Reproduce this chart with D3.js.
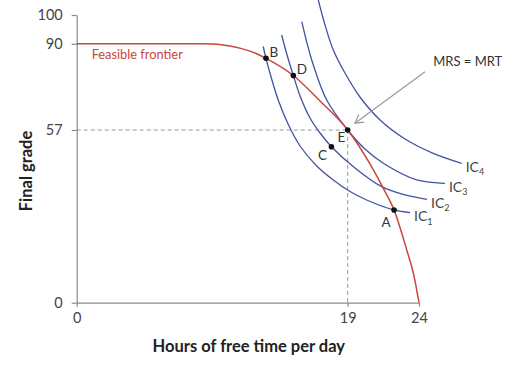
<!DOCTYPE html>
<html>
<head>
<meta charset="utf-8">
<script src="https://cdn.jsdelivr.net/npm/d3@7"></script>
<style>
  body { margin: 0; background: #fff; }
  svg { display: block; font-family: Lato, "Open Sans", sans-serif; }
</style>
</head>
<body>
<div id="chart"></div>
<script>
const width = 513, height = 377;

// tick values
const xTicks = [0, 19, 24];
const yTicks = [0, 57, 90, 100];

// [hours of free time, final grade]
const frontier = [[0, 90], [9, 90], [10.75, 89.2], [12.15, 87.2], [13.27, 84.45], [15.19, 77.86],
  [17.06, 68.1], [19, 57], [20.56, 45.8], [21.48, 37.9], [22.25, 30.6], [23.14, 17.4], [23.65, 8.8], [24, 0]];

const ic1 = [[13.08, 88.97], [13.27, 84.45], [13.69, 76.14], [14.18, 67.72], [14.82, 59.3], [15.66, 51.72],
  [16.83, 45.12], [17.99, 40.5], [19.16, 36.7], [20.33, 33.9], [22.25, 30.6], [23.37, 29.7]];
const ic2 = [[14.37, 93.06], [14.75, 85.71], [15.19, 77.86], [15.66, 70.02], [16.36, 61.59], [17.06, 56.01],
  [17.86, 51.49], [19.51, 44.46], [21.38, 38.29], [23.02, 35.55], [24.56, 34.13]];
const ic3 = [[15.78, 97.67], [16.48, 83.8], [17.53, 68.49], [19, 57], [20.21, 50.73], [21.5, 46.01],
  [23.84, 40.5], [25.82, 39.41]];
const ic4 = [[16.94, 105.2], [17.41, 96.53], [17.99, 87.63], [18.81, 78.82], [19.86, 69.63], [21.27, 60.83],
  [23.02, 54.03], [25.0, 49.31], [26.99, 46.01]];

const icCurves = [ic1, ic2, ic3, ic4];
const icNames = ["1", "2", "3", "4"];

// labelled points
const pointNames = ["B", "D", "E", "C", "A"];
const pointValues = [[13.27, 84.45], [15.19, 77.86], [19, 57], [17.86, 51.49], [22.25, 30.6]];

// MRS = MRT annotation (arrow start, arrow tip, text)
const annoText = "MRS = MRT";
const annoFrom = [24.42, 79.3];
const annoTo = [19.51, 59.6];
const annoLabel = [25.0, 83.1];

const red = "#c8463a", blue = "#4152a2", axisGrey = "#8a8a8a";

const svg = d3.select("#chart")
  .append("svg")
  .attr("width", width)
  .attr("height", height)
  .attr("viewBox", [0, 0, width, height]);

svg.append("rect").attr("width", width).attr("height", height).attr("fill", "#fff");

let x = d3.scaleLinear()
  .domain([0, 24])
  .range([76.7, 419]);

// the source axis is not drawn to a single scale, so the ticks are pinned
let y = d3.scaleLinear()
  .domain([0, 57, 90, 100])
  .range([302.7, 130, 43.8, 15]);

// dashed guides to E
let guide = svg.append("g")
  .attr("stroke", "#999")
  .attr("stroke-width", 1)
  .attr("stroke-dasharray", "4,3")
  .attr("fill", "none");

guide.append("line")
  .attr("x1", x(0)).attr("x2", x(19))
  .attr("y1", y(57)).attr("y2", y(57));
guide.append("line")
  .attr("x1", x(19)).attr("x2", x(19))
  .attr("y1", y(57)).attr("y2", y(0));

// axes
let xAxis = svg.append("g")
  .attr("transform", `translate(0,${y(0)})`)
  .call(d3.axisBottom(x).tickValues(xTicks).tickSize(4).tickSizeOuter(0).tickPadding(6));

let yAxis = svg.append("g")
  .attr("transform", `translate(${x(0)},0)`)
  .call(d3.axisLeft(y).tickValues(yTicks).tickSize(5).tickSizeOuter(0).tickPadding(9));

for (let g of [xAxis, yAxis]) {
  g.select(".domain").attr("stroke", axisGrey).attr("stroke-width", 1.2);
  g.selectAll(".tick line").attr("stroke", axisGrey).attr("stroke-width", 1.2);
  g.selectAll(".tick text")
    .attr("fill", "#444")
    .style("font-size", "14.5px")
    .style("font-family", "Lato, 'Open Sans', sans-serif");
}

// indifference curves
let icLine = d3.line()
  .x(d => x(d[0]))
  .y(d => y(d[1]))
  .curve(d3.curveCatmullRom.alpha(0.5));

icCurves.forEach((c, i) => {
  svg.append("path")
    .datum(c)
    .attr("fill", "none")
    .attr("stroke", blue)
    .attr("stroke-width", 1.3)
    .attr("d", icLine);

  let last = c[c.length - 1];
  let t = svg.append("text")
    .attr("x", x(last[0]) + 4)
    .attr("y", y(last[1]) + 8.5)
    .attr("fill", "#444")
    .style("font-size", "14px");
  t.append("tspan").text("IC");
  t.append("tspan")
    .attr("dy", 3.5)
    .style("font-size", "9px")
    .text(icNames[i]);
});

// feasible frontier
let frontierLine = d3.line()
  .x(d => x(d[0]))
  .y(d => y(d[1]))
  .curve(d3.curveMonotoneX);

svg.append("path")
  .datum(frontier)
  .attr("fill", "none")
  .attr("stroke", red)
  .attr("stroke-width", 1.5)
  .attr("d", frontierLine);

svg.append("text")
  .attr("x", x(1.05))
  .attr("y", y(90) + 15)
  .attr("fill", red)
  .style("font-size", "12.8px")
  .text("Feasible frontier");

// points
const labelOffset = {
  B: [3.5, -1.5, "start"],
  D: [3.5, -2, "start"],
  E: [-2.5, 12, "end"],
  C: [-4.5, 13, "end"],
  A: [-3.5, 17.5, "end"]
};

pointNames.forEach((n, i) => {
  let p = pointValues[i];
  svg.append("circle")
    .attr("cx", x(p[0]))
    .attr("cy", y(p[1]))
    .attr("r", 2.8)
    .attr("fill", "#111");
  let o = labelOffset[n];
  svg.append("text")
    .attr("x", x(p[0]) + o[0])
    .attr("y", y(p[1]) + o[1])
    .attr("text-anchor", o[2])
    .attr("fill", "#333")
    .style("font-size", "13.5px")
    .text(n);
});

// MRS = MRT arrow
svg.append("defs").append("marker")
  .attr("id", "arrow")
  .attr("markerUnits", "userSpaceOnUse")
  .attr("viewBox", "-10 -6 12 12")
  .attr("refX", 0).attr("refY", 0)
  .attr("markerWidth", 12).attr("markerHeight", 12)
  .attr("orient", "auto")
  .append("path")
  .attr("d", "M-8,-4.5L0,0L-8,4.5")
  .attr("fill", "none")
  .attr("stroke", "#999")
  .attr("stroke-width", 1.2);

svg.append("line")
  .attr("x1", x(annoFrom[0])).attr("y1", y(annoFrom[1]))
  .attr("x2", x(annoTo[0])).attr("y2", y(annoTo[1]))
  .attr("stroke", "#999")
  .attr("stroke-width", 1.2)
  .attr("marker-end", "url(#arrow)");

svg.append("text")
  .attr("x", x(annoLabel[0]))
  .attr("y", y(annoLabel[1]))
  .attr("dy", "0.35em")
  .attr("fill", "#333")
  .style("font-size", "13px")
  .text(annoText);

// axis titles
svg.append("text")
  .attr("x", x(12) + 1)
  .attr("y", 351.5)
  .attr("text-anchor", "middle")
  .attr("fill", "#222")
  .style("font-size", "16.5px")
  .style("font-weight", "bold")
  .text("Hours of free time per day");

svg.append("text")
  .attr("transform", "rotate(-90)")
  .attr("x", -171)
  .attr("y", 32)
  .attr("text-anchor", "middle")
  .attr("fill", "#222")
  .style("font-size", "16.5px")
  .style("font-weight", "bold")
  .text("Final grade");
</script>
</body>
</html>
